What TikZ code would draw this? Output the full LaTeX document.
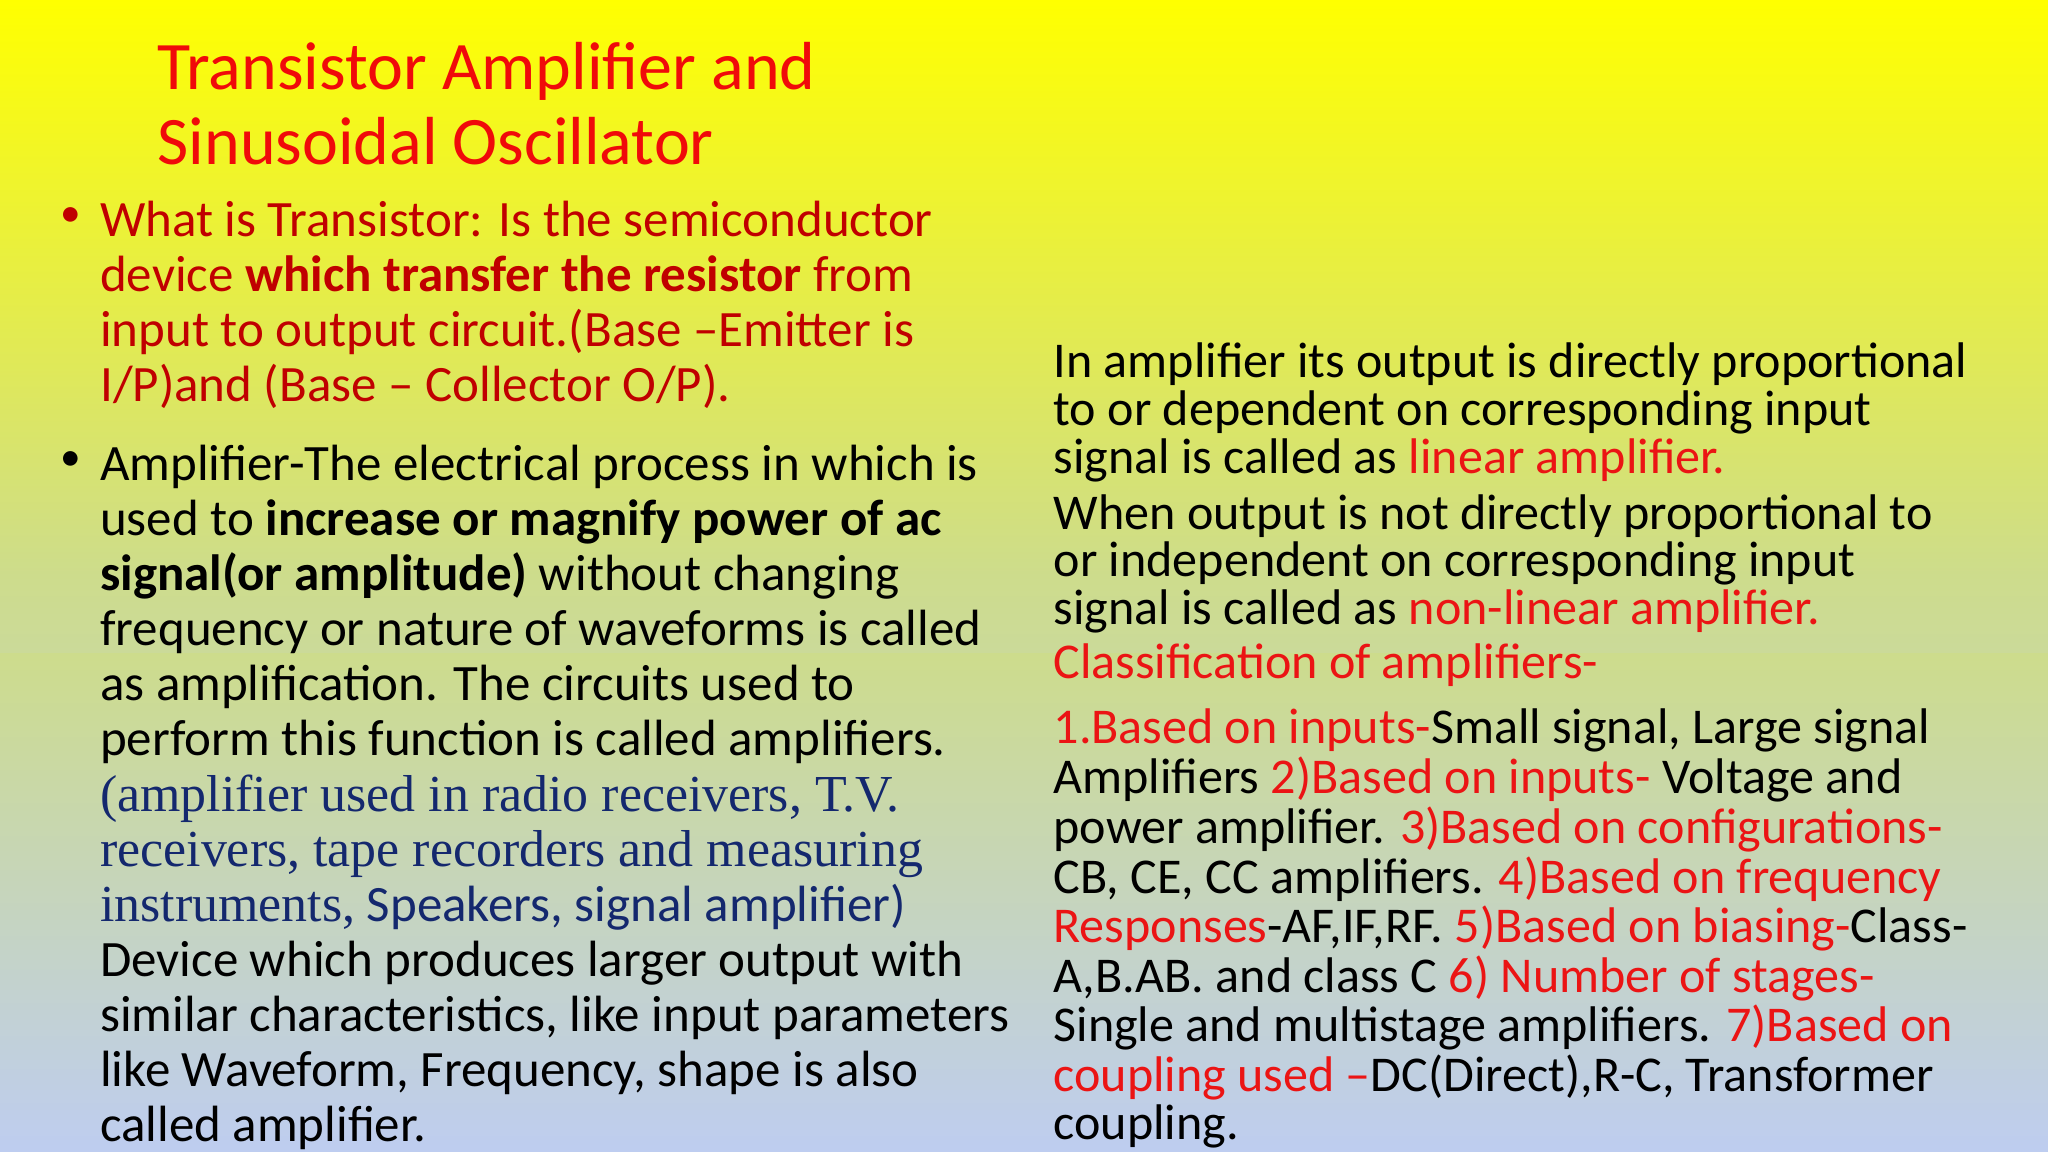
\documentclass[tikz,border=0pt]{standalone}
\usepackage{fontspec}
\setmainfont{Carlito}
\newfontfamily\serifb{Liberation Serif}
\definecolor{bgtop}{RGB}{255,255,0}
\definecolor{bgmid}{RGB}{205,220,140}
\definecolor{bgbot}{RGB}{190,205,240}
\definecolor{tred}{RGB}{240,10,10}
\definecolor{dred}{RGB}{192,0,0}
\definecolor{rred}{RGB}{235,20,20}
\definecolor{dblue}{RGB}{20,40,110}
\tikzset{
 para/.style={anchor=north west, inner sep=0pt, align=left},
 bul/.style={anchor=north west, inner sep=0pt},
 rtext/.style={para, font=\fontsize{10.9}{9.3}\selectfont},
}
\begin{document}
\begin{tikzpicture}[x=0.01cm,y=-0.01cm]
\useasboundingbox (0,0) rectangle (1568,882);
\shade[top color=bgtop, bottom color=bgbot, middle color=bgmid] (0,0) rectangle (1568,882);
\shade[top color=bgmid, bottom color=bgbot] (0,500) rectangle (1568,882);
\node[para, text=tred, font=\fontsize{14.8}{16.2}\selectfont] (title) at (120,32)
 {Transistor Amplifier and\\Sinusoidal Oscillator};
\node[bul, text=dred, font=\fontsize{9}{12}\selectfont] (b1) at (46,158) {•};
\node[para, text=dred, font=\fontsize{11.1}{12}\selectfont] (p1) at (76,153)
 {What is Transistor: Is the semiconductor\\ device \textbf{which transfer the resistor} from\\ input to output circuit.(Base –Emitter is\\ I/P)and (Base – Collector O/P).};
\node[bul, font=\fontsize{9}{12}\selectfont] (b2) at (46,345) {•};
\node[para, font=\fontsize{11.1}{12}\selectfont] (p2) at (76,340)
 {Amplifier-The electrical process in which is\\ used to \textbf{increase or magnify power of ac}\\ \textbf{signal(or amplitude)} without changing\\ frequency or nature of waveforms is called\\ as amplification. The circuits used to\\ perform this function is called amplifiers.\\
 {\color{dblue}\serifb\fontsize{11.3}{12}\selectfont (amplifier used in radio receivers, T.V.}\\
 {\color{dblue}\serifb\fontsize{11.3}{12}\selectfont receivers, tape recorders and measuring}\\
 {\color{dblue}{\serifb\fontsize{11.3}{12}\selectfont instruments,} Speakers, signal amplifier)}\\
 Device which produces larger output with\\ similar characteristics, like input parameters\\ like Waveform, Frequency, shape is also\\ called amplifier.};
\node[rtext] (p3) at (806,262)
 {In amplifier its output is directly proportional\\ to or dependent on corresponding input\\ signal is called as {\color{rred}linear amplifier.}};
\node[rtext] (p4) at (806,378)
 {When output is not directly proportional to\\ or independent on corresponding input\\ signal is called as {\color{rred}non-linear amplifier.}};
\node[rtext, text=rred] (p5) at (806,492) {Classification of amplifiers-};
\node[rtext] (p6) at (806,542)
 {{\color{rred}1.Based on inputs-}Small signal, Large signal\\ Amplifiers {\color{rred}2)Based on inputs-} Voltage and\\ power amplifier. {\color{rred}3)Based on configurations-}\\ CB, CE, CC amplifiers. {\color{rred}4)Based on frequency}\\ {\color{rred}Responses}-AF,IF,RF. {\color{rred}5)Based on biasing-}Class-\\ A,B.AB. and class C {\color{rred}6) Number of stages-}\\ Single and multistage amplifiers. {\color{rred}7)Based on}\\ {\color{rred}coupling used –}DC(Direct),R-C, Transformer\\ coupling.};
\end{tikzpicture}
\end{document}
